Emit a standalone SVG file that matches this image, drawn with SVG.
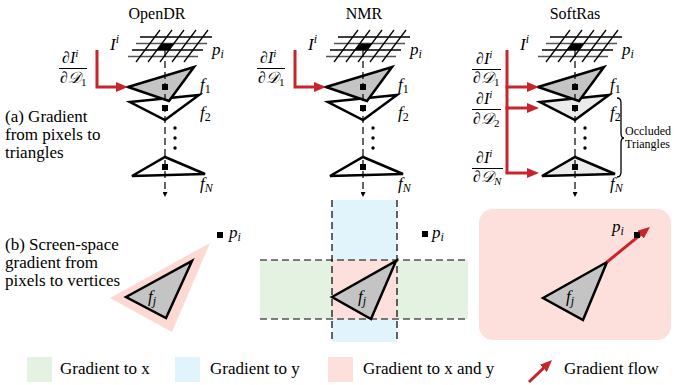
<svg xmlns="http://www.w3.org/2000/svg" xmlns:xlink="http://www.w3.org/1999/xlink" width="675" height="385" viewBox="0 0 675 385">
<style>
  .t{font-family:"Liberation Serif","DejaVu Serif",serif;font-size:17px;fill:#000}
  .ttl{font-family:"Liberation Serif","DejaVu Serif",serif;font-size:16px;fill:#000}
  .sm{font-family:"Liberation Serif","DejaVu Serif",serif;font-size:12px;fill:#000}
  .m{font-family:"Liberation Serif","DejaVu Serif",serif;font-size:17px;font-style:italic;fill:#000}
  .fr{font-family:"Liberation Serif","DejaVu Serif",serif;font-size:16px;font-style:italic;fill:#000}
  .sb{font-size:12px}
  .sf{font-size:11px}
  .up{font-style:normal}
  .gk{stroke:#000;stroke-width:1.3}
  .gg{stroke:#555;stroke-width:1.6}
  .tri{stroke:#000;stroke-width:2.5;stroke-linejoin:miter}
  .g1{fill:#c4c4c4}
  .g2{fill:#ffffff}
  .g3{fill:#ebebeb}
  .dash{stroke:#000;stroke-width:1.2;stroke-dasharray:7 4;fill:none}
  .red{stroke:#c8242b;stroke-width:3;fill:none}
  .bar{stroke:#000;stroke-width:1}
</style>
<defs>
  <marker id="ah" viewBox="0 0 12 10" refX="2" refY="5" markerWidth="12" markerHeight="10" markerUnits="userSpaceOnUse" orient="auto">
    <path d="M0,0 L12,5 L0,10 z" fill="#c8242b"/>
  </marker>
  <marker id="sa" viewBox="0 0 5 5" refX="1" refY="2.5" markerWidth="5" markerHeight="5" markerUnits="userSpaceOnUse" orient="auto">
    <path d="M0,0 L5,2.5 L0,5 z" fill="#000"/>
  </marker>
  <g id="grid">
    <line x1="140" y1="37" x2="212" y2="37" class="gk"/>
    <line x1="136" y1="43.5" x2="207" y2="43.5" class="gg"/>
    <line x1="132" y1="50" x2="203" y2="50" class="gk"/>
    <line x1="128" y1="56.5" x2="198" y2="56.5" class="gg"/>
    <line x1="136" y1="62" x2="160" y2="30" class="gk"/>
    <line x1="148" y1="62" x2="172" y2="30" class="gk"/>
    <line x1="160" y1="62" x2="184" y2="30" class="gk"/>
    <line x1="172" y1="62" x2="196" y2="30" class="gk"/>
    <line x1="184" y1="62" x2="208" y2="30" class="gk"/>
    <polygon points="161.9,43.5 173.9,43.5 169,50 157,50" fill="#000"/>
  </g>
  <g id="labels">
    <text class="m" x="110" y="50">I<tspan dy="-7" class="sb">i</tspan></text>
    <text class="m" x="212" y="55">p<tspan dy="3" class="sb">i</tspan></text>
    <text class="m" x="200" y="90">f<tspan dy="3" class="sb up">1</tspan></text>
    <text class="m" x="200" y="118">f<tspan dy="3" class="sb up">2</tspan></text>
    <text class="m" x="200" y="189">f<tspan dy="3" class="sb">N</tspan></text>
    <rect x="162" y="84" width="6" height="6"/>
    <rect x="162" y="105" width="6" height="6"/>
    <rect x="162" y="164" width="6" height="6"/>
    <circle cx="175" cy="128" r="1.7"/>
    <circle cx="175" cy="138" r="1.7"/>
    <circle cx="175" cy="148" r="1.7"/>
  </g>
</defs>

<!-- Titles and side texts -->
<g id="titles">
  <text class="ttl" x="157" y="19" text-anchor="middle">OpenDR</text>
  <text class="ttl" x="364" y="19" text-anchor="middle">NMR</text>
  <text class="ttl" x="575" y="19" text-anchor="middle">SoftRas</text>
</g>
<g id="caption-a">
  <text class="t" x="5" y="122">(a) Gradient</text>
  <text class="t" x="5" y="140">from pixels to</text>
  <text class="t" x="5" y="158">triangles</text>
</g>
<g id="caption-b">
  <text class="t" x="5" y="250">(b) Screen-space</text>
  <text class="t" x="5" y="268">gradient from</text>
  <text class="t" x="5" y="286">pixels to vertices</text>
</g>

<!-- OpenDR top -->
<g id="opendr-top">
  <use xlink:href="#grid"/>
  <polygon class="tri g2" points="130,102 199,95 165,120"/>
  <polygon class="tri g1" points="128,87 194,67 169,101"/>
  <polygon class="tri g2" points="132,176 165,157 205,174"/>
  <use xlink:href="#labels"/>
  <text class="fr" x="62" y="63">∂I<tspan dy="-6" class="sf">i</tspan></text>
  <line class="bar" x1="59" y1="68.5" x2="87" y2="68.5"/>
  <text class="fr" x="60" y="83">∂𝒟<tspan dy="3" class="sf up">1</tspan></text>
</g>

<!-- NMR top -->
<g id="nmr-top" transform="translate(198,0)">
  <use xlink:href="#grid"/>
  <polygon class="tri g2" points="130,102 199,95 165,120"/>
  <polygon class="tri g1" points="128,87 194,67 169,101"/>
  <polygon class="tri g2" points="132,176 165,157 205,174"/>
  <use xlink:href="#labels"/>
  <text class="fr" x="62" y="63">∂I<tspan dy="-6" class="sf">i</tspan></text>
  <line class="bar" x1="59" y1="68.5" x2="87" y2="68.5"/>
  <text class="fr" x="60" y="83">∂𝒟<tspan dy="3" class="sf up">1</tspan></text>
</g>

<!-- SoftRas top -->
<g id="softras-top">
  <g transform="translate(410,0)">
    <use xlink:href="#grid"/>
    <polygon class="tri g3" points="130,102 199,95 165,120"/>
    <polygon class="tri g1" points="128,87 194,67 169,101"/>
    <polygon class="tri g3" points="132,176 165,157 205,174"/>
    <use xlink:href="#labels"/>
  </g>
  <text class="fr" x="476" y="64">∂I<tspan dy="-6" class="sf">i</tspan></text>
  <line class="bar" x1="472" y1="69.5" x2="501" y2="69.5"/>
  <text class="fr" x="473" y="83">∂𝒟<tspan dy="3" class="sf up">1</tspan></text>
  <text class="fr" x="476" y="104">∂I<tspan dy="-6" class="sf">i</tspan></text>
  <line class="bar" x1="472" y1="109.5" x2="501" y2="109.5"/>
  <text class="fr" x="473" y="124">∂𝒟<tspan dy="3" class="sf up">2</tspan></text>
  <text class="fr" x="476" y="163">∂I<tspan dy="-6" class="sf">i</tspan></text>
  <line class="bar" x1="472" y1="168.5" x2="503" y2="168.5"/>
  <text class="fr" x="473" y="182">∂𝒟<tspan dy="3" class="sf">N</tspan></text>
  <path d="M617,98 Q621,98 621,103 L621,133 Q621,138 624,138 Q621,138 621,143 L621,172 Q621,177 617,177" fill="none" stroke="#000" stroke-width="1.3"/>
  <text class="sm" x="625" y="135">Occluded</text>
  <text class="sm" x="625" y="148">Triangles</text>
</g>

<!-- OpenDR bottom -->
<g id="opendr-bottom">
  <polygon points="110,298 210,243 172,332" fill="#fcd9d3"/>
  <polygon class="tri g1" points="126,297 192,261 166,318"/>
  <text class="m" x="148" y="302">f<tspan dy="3" class="sb">j</tspan></text>
  <rect x="217" y="232" width="6" height="6"/>
  <text class="m" x="229" y="238">p<tspan dy="3" class="sb">i</tspan></text>
</g>

<!-- NMR bottom -->
<g id="nmr-bottom">
  <rect x="332" y="200" width="65" height="142" fill="#e1f4fc"/>
  <rect x="260" y="260" width="208" height="59" fill="#e4f2e2"/>
  <rect x="332" y="260" width="65" height="59" fill="#fde0dc"/>
  <line class="dash" x1="332" y1="200" x2="332" y2="342"/>
  <line class="dash" x1="397" y1="200" x2="397" y2="342"/>
  <line class="dash" x1="260" y1="260" x2="468" y2="260"/>
  <line class="dash" x1="260" y1="319" x2="468" y2="319"/>
  <polygon class="tri g1" points="332,297 396,261 371,319"/>
  <text class="m" x="358" y="302">f<tspan dy="3" class="sb">j</tspan></text>
  <rect x="422" y="231" width="6" height="6"/>
  <text class="m" x="432" y="238">p<tspan dy="3" class="sb">i</tspan></text>
</g>

<!-- SoftRas bottom -->
<g id="softras-bottom">
  <rect x="479" y="209" width="192" height="131" rx="14" fill="#fde0dc"/>
  <polygon class="tri g1" points="543,298 607,262 583,320"/>
  <text class="m" x="566" y="302">f<tspan dy="3" class="sb">j</tspan></text>
  <text class="m" x="612" y="232">p<tspan dy="3" class="sb">i</tspan></text>
</g>

<!-- Connectors -->
<g id="connectors">
  <line class="dash" x1="165" y1="50" x2="165" y2="193" marker-end="url(#sa)"/>
  <line class="dash" x1="363" y1="50" x2="363" y2="193" marker-end="url(#sa)"/>
  <line class="dash" x1="575" y1="50" x2="575" y2="193" marker-end="url(#sa)"/>
  <path class="red" d="M97,50 V87 H118" marker-end="url(#ah)"/>
  <path class="red" d="M295,50 V87 H316" marker-end="url(#ah)"/>
  <path class="red" d="M507,50 V173"/>
  <path class="red" d="M505.5,87 H529" marker-end="url(#ah)"/>
  <path class="red" d="M505.5,108 H529" marker-end="url(#ah)"/>
  <path class="red" d="M505.5,173 H529" marker-end="url(#ah)"/>
  <line class="red" x1="607" y1="262" x2="642.2" y2="233.3" marker-end="url(#ah)"/>
  <rect x="634" y="232" width="6" height="6"/>
</g>

<!-- Legend -->
<g id="legend">
  <rect x="27" y="357" width="25" height="25" fill="#e4f2e2"/>
  <text class="t" x="60" y="374">Gradient to x</text>
  <rect x="175" y="357" width="25" height="25" fill="#e1f4fc"/>
  <text class="t" x="210" y="374">Gradient to y</text>
  <rect x="328" y="357" width="25" height="25" fill="#fde0dc"/>
  <text class="t" x="363" y="374">Gradient to x and y</text>
  <line class="red" x1="529" y1="382" x2="544.8" y2="366.9" marker-end="url(#ah)"/>
  <text class="t" x="564" y="374">Gradient flow</text>
</g>
</svg>
